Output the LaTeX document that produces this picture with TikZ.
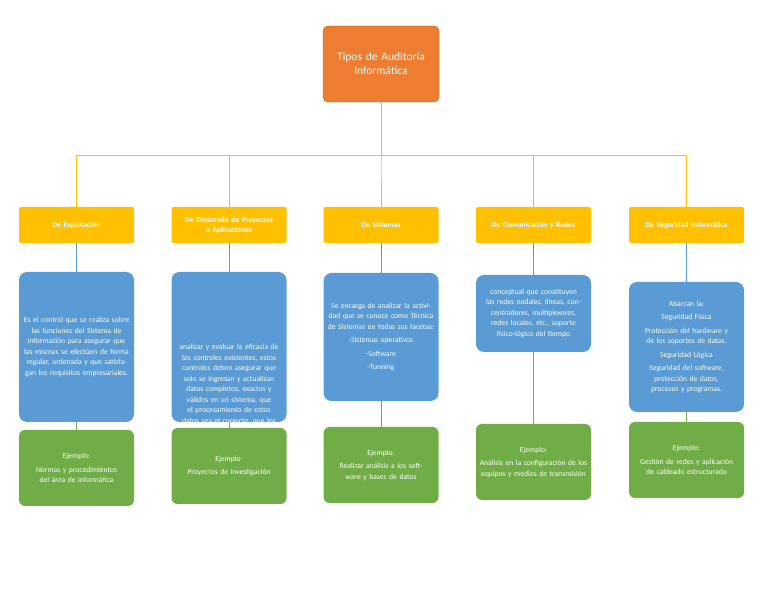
\documentclass[tikz,border=0pt]{standalone}
\usepackage{fontspec}
\setmainfont{Carlito}
\usetikzlibrary{positioning}
\definecolor{naranja}{HTML}{ED7D31}
\definecolor{amarillo}{HTML}{FFC000}
\definecolor{azul}{HTML}{5B9BD5}
\definecolor{verde}{HTML}{70AD47}
\tikzset{caja/.style={rounded corners=5pt, text=white, align=center, minimum width=115pt, text width=108pt, inner sep=2pt, font=\fontsize{7.6}{10.5}\selectfont},
  titulo/.style={caja, fill=naranja, draw=naranja!80!black, minimum width=116pt, minimum height=76pt, font=\fontsize{11.5}{14}\selectfont},
  tipo/.style={caja, fill=amarillo, minimum height=36pt, rounded corners=2pt, font=\bfseries\fontsize{7.6}{10}\selectfont},
  desc/.style={caja, fill=azul, rounded corners=8pt},
  ejem/.style={caja, fill=verde, minimum height=76pt, rounded corners=6pt},
  lamarilla/.style={draw=amarillo, line width=0.8pt},
  lazul/.style={draw=azul, line width=0.8pt},
  lverde/.style={draw=verde, line width=0.8pt}}
\begin{document}
\begin{tikzpicture}[x=1pt,y=1pt]
\useasboundingbox (0,0) rectangle (768,594);
% raiz
\node[titulo] (raiz) at (381,530) {Tipos de Auditoría\\Informática};
% tipos
\node[tipo] (t1) at (76.5,369) {De Explotación};
\node[tipo] (t2) at (229,369) {De Desarrollo de Proyectos\\o Aplicaciones};
\node[tipo] (t3) at (381,369) {De Sistemas};
\node[tipo] (t4) at (533.5,369) {De Comunicación y Redes};
\node[tipo] (t5) at (686.5,369) {De Seguridad Informática};
\coordinate (barra) at (381,439);
\foreach \i in {1,...,5}
  \draw[lamarilla] (raiz.south) -- (barra) -| (t\i.north);
\draw[lamarilla] (raiz.south) -- (barra);
% descripciones
\node[desc, minimum height=150pt] (d1) at (76.5,247) {Es el control que se realiza sobre las funciones del Sistema de Información para asegurar que las mismas se efectúen de forma regular, ordenada y que satisfagan los requisitos empresariales.};
\node[desc, minimum height=150pt, text depth=0pt] (d2) at (229,247) {analizar y evaluar la eficacia de los controles existentes, estos controles deben asegurar que solo se ingresan y actualizan datos completos, exactos y válidos en un sistema, que el procesamiento de estos datos sea el correcto, que los resultados del procesamiento cumplen las expectativas};
\node[desc, minimum height=128pt] (d3) at (381,257) {Se encarga de analizar la actividad que se conoce como Técnica de Sistemas en todas sus facetas:\\[3pt]-Sistemas operativos\\[3pt]-Software\\[3pt]-Tunning};
\node[desc, minimum height=77pt] (d4) at (533.5,280.5) {conceptual que constituyen las redes nodales, líneas, concentradores, multiplexores, redes locales, etc., soporte físico-lógico del tiempo};
\node[desc, minimum height=130pt] (d5) at (686.5,247) {Abarcan la:\\[3pt]Seguridad Física\\[3pt]Protección del hardware y de los soportes de datos.\\[3pt]Seguridad Lógica\\[3pt]Seguridad del software, protección de datos, procesos y programas.};
% ejemplos
\node[ejem] (e1) at (76.5,126) {Ejemplo:\\[3pt]Normas y procedimientos del área de informática};
\node[ejem] (e2) at (229,128) {Ejemplo:\\[3pt]Proyectos de investigación};
\node[ejem] (e3) at (381,129) {Ejemplo:\\[3pt]Realizar análisis a los software y bases de datos};
\node[ejem] (e4) at (533.5,132) {Ejemplo:\\[3pt]Análisis en la configuración de los equipos  y medios de transmisión};
\node[ejem] (e5) at (686.5,134) {Ejemplo:\\[3pt]Gestión de redes y aplicación de cableado estructurado};
\foreach \i in {1,...,5}{
  \draw[lazul] (t\i) -- (d\i);
  \draw[lverde] (d\i) -- (e\i);
}
\end{tikzpicture}
\end{document}
